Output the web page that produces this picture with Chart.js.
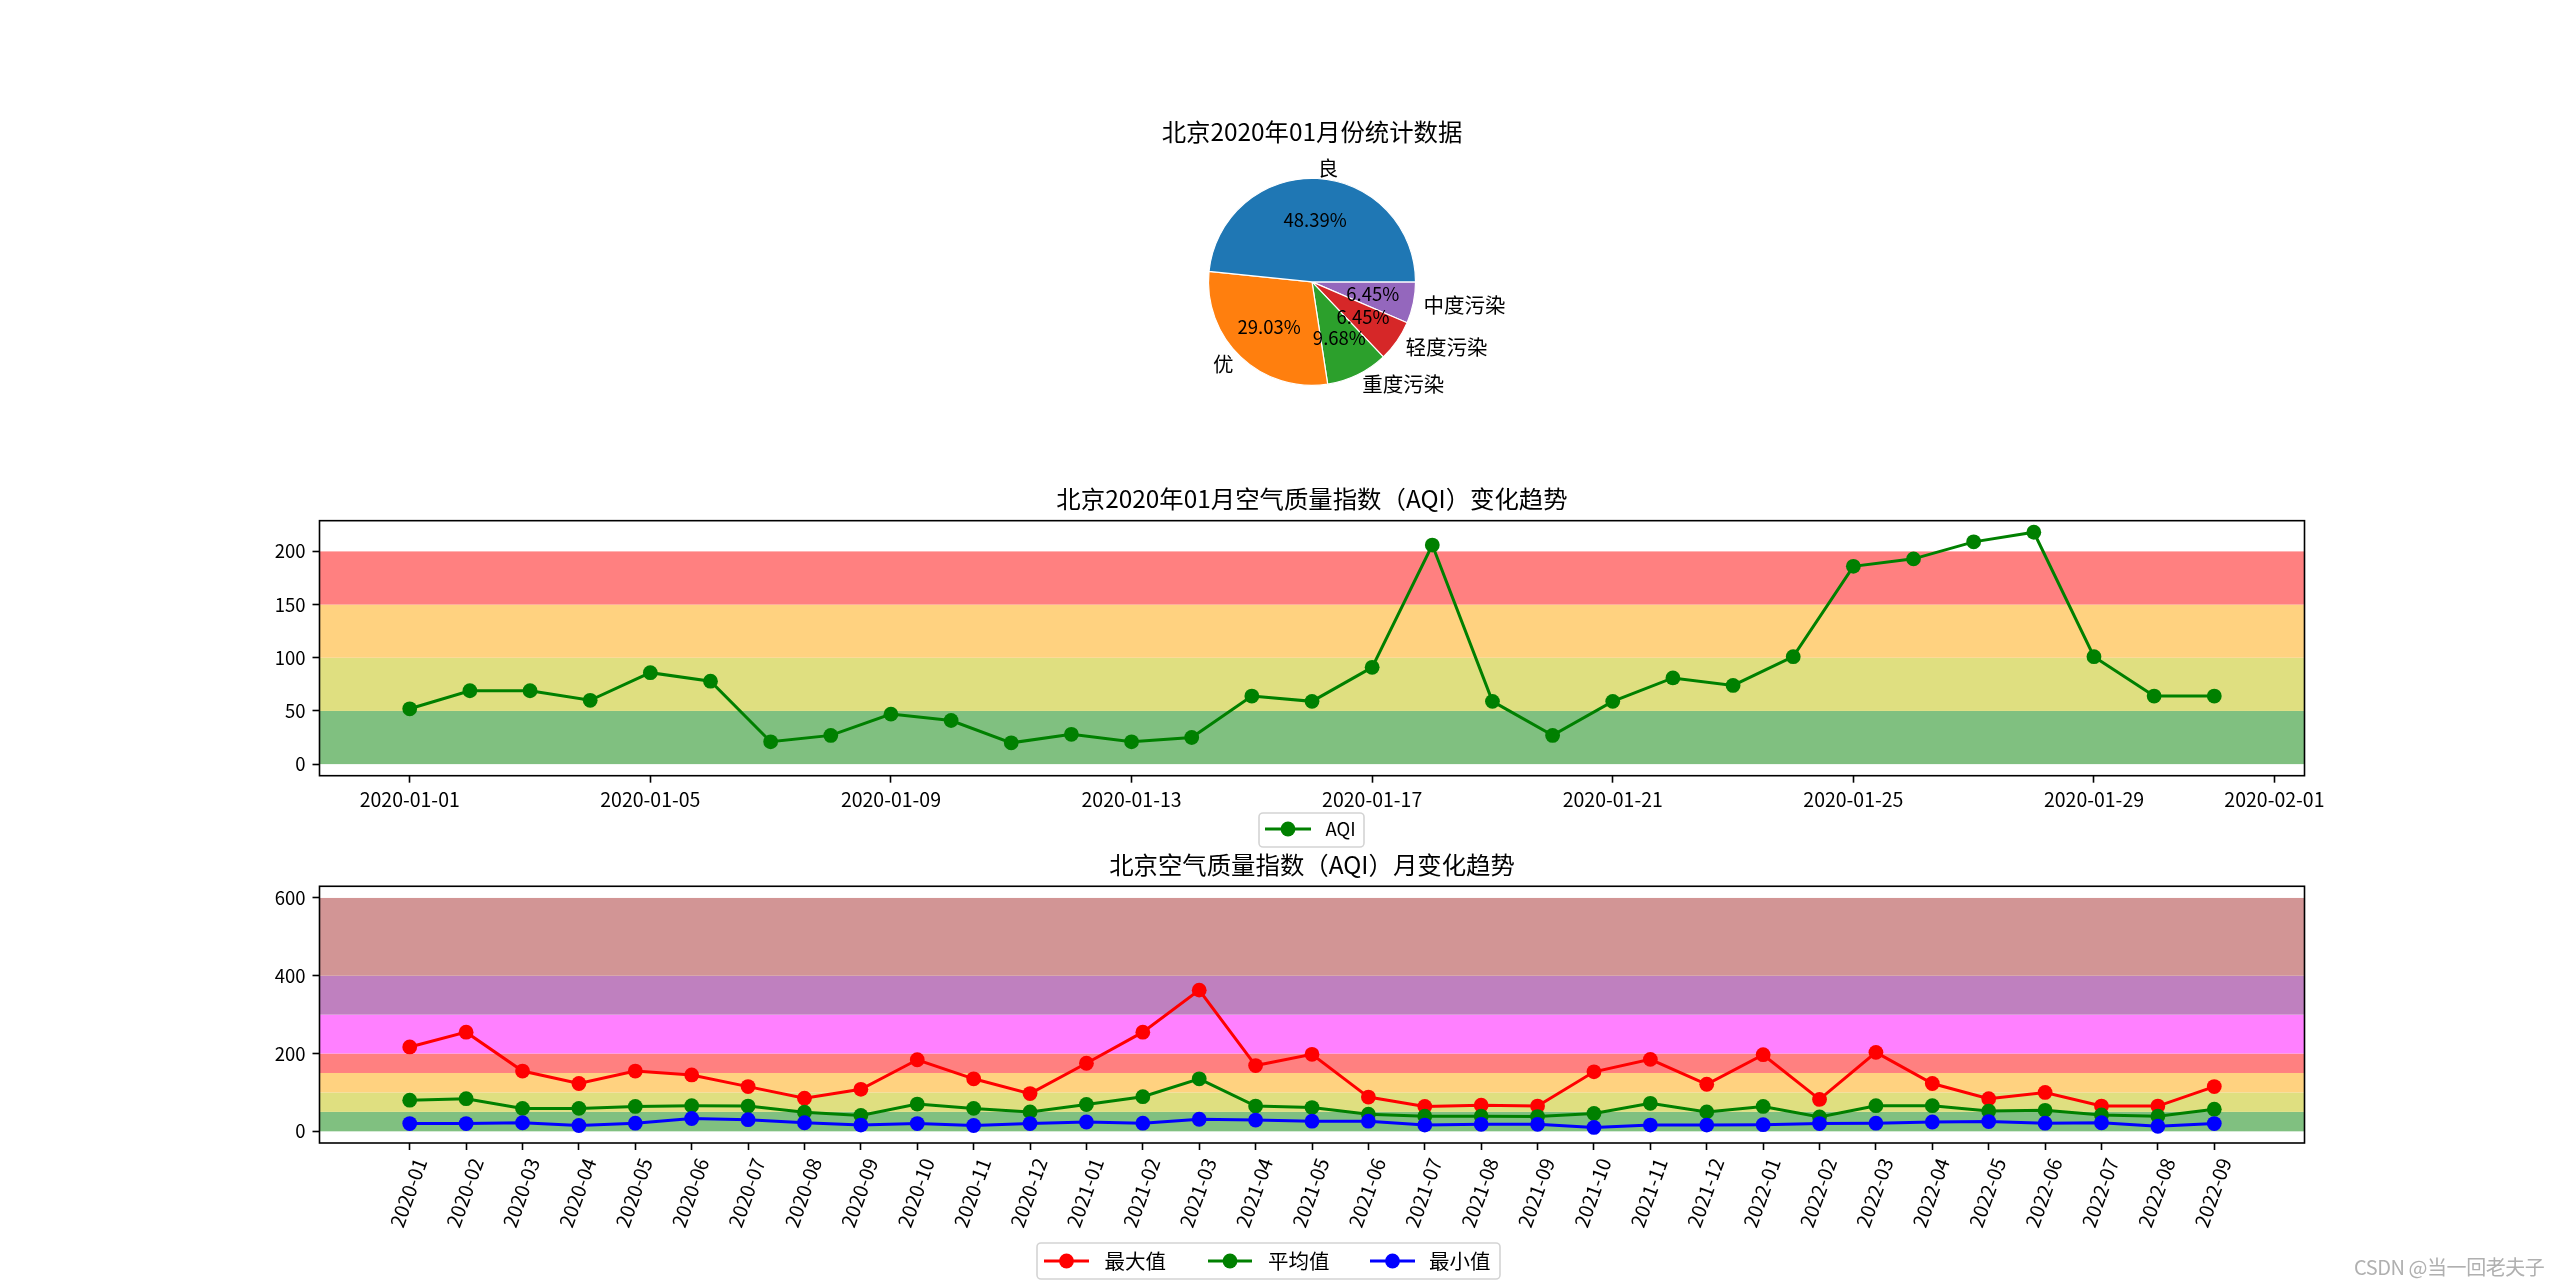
<!DOCTYPE html>
<html lang="zh">
<head>
<meta charset="utf-8">
<title>北京空气质量</title>
<script src="https://cdn.jsdelivr.net/npm/chart.js@4"></script>
<style>
html,body{margin:0;padding:0;background:#fff;width:2560px;height:1284px;overflow:hidden}
canvas{position:absolute;display:block}
#wm{position:absolute;left:2354px;top:1252px;font:20px "Noto Sans CJK SC";color:#b0b0b0;white-space:nowrap;letter-spacing:-0.45px}
</style>
</head>
<body>
<canvas id="pie" width="2496" height="320" style="left:64px;top:100px;width:2496px;height:320px"></canvas>
<canvas id="daily" width="2496" height="380" style="left:64px;top:470px;width:2496px;height:380px"></canvas>
<canvas id="monthly" width="2496" height="434" style="left:64px;top:850px;width:2496px;height:434px"></canvas>
<div id="wm">CSDN @当一回老夫子</div>
<script>
// ---------- data ----------
const pieTitle = '北京2020年01月份统计数据';
const pieLabels = ['良', '优', '重度污染', '轻度污染', '中度污染'];
const pieCounts = [15, 9, 3, 2, 2];
const pieColors = ['#1f77b4', '#ff7f0e', '#2ca02c', '#d62728', '#9467bd'];

const dailyTitle = '北京2020年01月空气质量指数（AQI）变化趋势';
const dailyName = 'AQI';
const dailyAQI = [52, 69, 69, 60, 86, 78, 21, 27, 47, 41, 20, 28, 21, 25, 64, 59, 91, 206, 59, 27, 59, 81, 74, 101, 186, 193, 209, 218, 101, 64, 64];
const dailyTickIndex = [0, 4, 8, 12, 16, 20, 24, 28, 31];
const dailyTickLabels = ['2020-01-01', '2020-01-05', '2020-01-09', '2020-01-13', '2020-01-17', '2020-01-21', '2020-01-25', '2020-01-29', '2020-02-01'];
const dailyYTicks = [0, 50, 100, 150, 200];
const dailyBands = [0, 50, 100, 150, 200];

const monthlyTitle = '北京空气质量指数（AQI）月变化趋势';
const months = ['2020-01','2020-02','2020-03','2020-04','2020-05','2020-06','2020-07','2020-08','2020-09','2020-10','2020-11','2020-12','2021-01','2021-02','2021-03','2021-04','2021-05','2021-06','2021-07','2021-08','2021-09','2021-10','2021-11','2021-12','2022-01','2022-02','2022-03','2022-04','2022-05','2022-06','2022-07','2022-08','2022-09'];
const maxName = '最大值', avgName = '平均值', minName = '最小值';
const maxAQI = [217, 255, 155, 123, 155, 145, 115, 85, 108, 184, 135, 97, 175, 255, 363, 169, 198, 88, 64, 67, 65, 153, 185, 121, 197, 82, 203, 123, 84, 100, 65, 65, 115];
const avgAQI = [80, 84, 59, 59, 64, 66, 65, 49, 41, 70, 59, 50, 69, 89, 135, 65, 61, 44, 39, 39, 38, 46, 72, 50, 64, 37, 66, 66, 52, 54, 42, 39, 57];
const minAQI = [20, 20, 22, 15, 21, 33, 30, 22, 16, 20, 15, 20, 24, 21, 31, 29, 26, 26, 16, 18, 18, 10, 16, 16, 17, 20, 21, 24, 25, 21, 22, 13, 20];
const monthlyYTicks = [0, 200, 400, 600];
const monthlyBands = [0, 50, 100, 150, 200, 300, 400, 600];

const bandColors = ['#80c080', '#dfdf80', '#ffd280', '#ff8080', '#ff80ff', '#bf80bf', '#d29595'];

// ---------- style ----------
const CJK = '"Noto Sans CJK SC"';
const TICK_FONT = {family: CJK, size: 18.5, weight: '400'};
const DATE_FONT = {family: CJK, size: 19.5, weight: '400'};
const TITLE_FONT = {family: CJK, size: 24.4, weight: '400'};
const LABEL_PX = 20.5;
const AXIS_SIDE = 255.5;
const LW = 3, R = 7.4, SPINE = 1.6;

Chart.defaults.color = '#000';
Chart.defaults.animation = false;
Chart.defaults.responsive = false;
Chart.defaults.devicePixelRatio = 1;
Chart.defaults.plugins.legend.display = false;
Chart.defaults.plugins.tooltip.enabled = false;

// ---------- plugins ----------
const bandsPlugin = edges => ({
  id: 'bands',
  beforeDatasetsDraw(c) {
    const {ctx, chartArea: a, scales: {y}} = c;
    ctx.save();
    for (let i = 0; i + 1 < edges.length; i++) {
      const t = y.getPixelForValue(edges[i + 1]), b = y.getPixelForValue(edges[i]);
      ctx.fillStyle = bandColors[i];
      ctx.fillRect(a.left, t, a.right - a.left, b - t);
    }
    ctx.restore();
  }
});
const framePlugin = {
  id: 'frame',
  afterDatasetsDraw(c) {
    const {ctx, chartArea: a} = c;
    ctx.save();
    ctx.strokeStyle = '#000';
    ctx.lineWidth = SPINE;
    ctx.strokeRect(a.left, a.top, a.right - a.left, a.bottom - a.top);
    ctx.restore();
  }
};
const legendPlugin = (box, midY, items, originY) => ({
  id: 'boxLegend',
  afterDraw(c) {
    const ctx = c.ctx, ox = 64, oy = originY;
    ctx.save();
    ctx.strokeStyle = '#d4d4d4';
    ctx.lineWidth = SPINE;
    ctx.fillStyle = 'rgba(255,255,255,0.8)';
    ctx.beginPath();
    ctx.roundRect(box[0] - ox, box[1] - oy, box[2] - box[0], box[3] - box[1], 4);
    ctx.fill();
    ctx.stroke();
    for (const it of items) {
      ctx.strokeStyle = it.color;
      ctx.fillStyle = it.color;
      ctx.lineWidth = LW;
      ctx.beginPath();
      ctx.moveTo(it.lineFrom - ox, midY - oy);
      ctx.lineTo(it.lineTo - ox, midY - oy);
      ctx.stroke();
      ctx.beginPath();
      ctx.arc((it.lineFrom + it.lineTo) / 2 - ox, midY - oy, R, 0, Math.PI * 2);
      ctx.fill();
      ctx.fillStyle = '#000';
      ctx.font = `${it.name === dailyName ? TICK_FONT.size : LABEL_PX}px ${CJK}`;
      ctx.textAlign = 'left';
      ctx.textBaseline = 'middle';
      ctx.fillText(it.name, it.textX - ox, midY - oy);
    }
    ctx.restore();
  }
});
const pieLabelPlugin = {
  id: 'pieLabels',
  afterDatasetsDraw(c) {
    const ctx = c.ctx, arcs = c.getDatasetMeta(0).data;
    const total = pieCounts.reduce((s, v) => s + v, 0);
    ctx.save();
    ctx.fillStyle = '#000';
    ctx.textBaseline = 'middle';
    const n = pieCounts.length;
    for (let i = 0; i < n; i++) {
      const arc = arcs[n - 1 - i];
      const mid = (arc.startAngle + arc.endAngle) / 2, r = arc.outerRadius;
      const lx = arc.x + 1.1 * r * Math.cos(mid), ly = arc.y + 1.1 * r * Math.sin(mid);
      ctx.font = `${LABEL_PX}px ${CJK}`;
      ctx.textAlign = lx > arc.x ? 'left' : 'right';
      ctx.fillText(pieLabels[i], lx, ly);
    }
    for (let i = 0; i < n; i++) {
      const arc = arcs[n - 1 - i];
      const mid = (arc.startAngle + arc.endAngle) / 2, r = arc.outerRadius;
      ctx.font = `${TICK_FONT.size}px ${CJK}`;
      ctx.textAlign = 'center';
      ctx.fillText((pieCounts[i] / total * 100).toFixed(2) + '%', arc.x + 0.6 * r * Math.cos(mid), arc.y + 0.6 * r * Math.sin(mid));
    }
    ctx.restore();
  }
};

const series = (name, values, color, order) => ({
  label: name,
  data: values.map((v, i) => ({x: i, y: v})),
  borderColor: color,
  backgroundColor: color,
  borderWidth: LW,
  pointRadius: R,
  pointBorderWidth: 0,
  pointBackgroundColor: color,
  tension: 0,
  fill: false,
  clip: false,
  order
});
const axisGrid = {display: true, drawOnChartArea: false, drawTicks: true, tickLength: 7, tickWidth: SPINE, tickColor: '#000'};
const axes = (xMin, xMax, xTicks, xLabel, yMin, yMax, yTicks, xHeight, extraX) => ({
  x: {
    type: 'linear', min: xMin, max: xMax,
    afterBuildTicks(s) { s.ticks = xTicks.map(v => ({value: v})); },
    afterFit(s) { s.height = xHeight; },
    grid: axisGrid,
    border: {display: false},
    ticks: Object.assign({autoSkip: false, font: DATE_FONT, color: '#000', padding: 5, callback: xLabel}, extraX)
  },
  y: {
    type: 'linear', min: yMin, max: yMax,
    afterBuildTicks(s) { s.ticks = yTicks.map(v => ({value: v})); },
    afterFit(s) { s.width = AXIS_SIDE; },
    grid: axisGrid,
    border: {display: false},
    ticks: {font: TICK_FONT, color: '#000', padding: 7}
  }
});

// ---------- pie ----------
new Chart(document.getElementById('pie'), {
  type: 'pie',
  data: {
    labels: [...pieLabels].reverse(),
    datasets: [{
      data: [...pieCounts].reverse(),
      backgroundColor: [...pieColors].reverse(),
      borderColor: '#fff',
      borderWidth: 1.2
    }]
  },
  options: {
    rotation: 90,
    layout: {padding: {bottom: 34}},
    plugins: {title: {display: true, text: pieTitle, font: TITLE_FONT, color: '#000', padding: {top: 17, bottom: 31.5}}}
  },
  plugins: [pieLabelPlugin]
});

// ---------- daily ----------
new Chart(document.getElementById('daily'), {
  type: 'line',
  data: {datasets: [series(dailyName, dailyAQI, '#008000', 1)]},
  options: {
    layout: {padding: {right: AXIS_SIDE}},
    scales: axes(-1.5, 31.5, dailyTickIndex, v => dailyTickLabels[dailyTickIndex.indexOf(v)], -10.9, 228.9, dailyYTicks, 74.3, {maxRotation: 0, minRotation: 0}),
    plugins: {title: {display: true, fullSize: false, text: dailyTitle, font: TITLE_FONT, color: '#000', padding: {top: 14, bottom: 7.4}}}
  },
  plugins: [bandsPlugin(dailyBands), framePlugin,
    legendPlugin([1259, 813, 1364, 847], 829, [{name: dailyName, color: '#008000', lineFrom: 1265, lineTo: 1311, textX: 1325.5}], 470)]
});

// ---------- monthly ----------
new Chart(document.getElementById('monthly'), {
  type: 'line',
  data: {datasets: [series(maxName, maxAQI, '#ff0000', 3), series(avgName, avgAQI, '#008000', 2), series(minName, minAQI, '#0000ff', 1)]},
  options: {
    layout: {padding: {right: AXIS_SIDE}},
    scales: axes(-1.6, 33.6, months.map((m, i) => i), v => months[v], -30, 630, monthlyYTicks, 141, {maxRotation: 70, minRotation: 70, labelOffset: 11}),
    plugins: {title: {display: true, fullSize: false, text: monthlyTitle, font: TITLE_FONT, color: '#000', padding: {top: 0, bottom: 7}}}
  },
  plugins: [bandsPlugin(monthlyBands), framePlugin,
    legendPlugin([1037, 1243, 1500, 1279], 1261, [
      {name: maxName, color: '#ff0000', lineFrom: 1044, lineTo: 1089, textX: 1104.6},
      {name: avgName, color: '#008000', lineFrom: 1208, lineTo: 1252, textX: 1268},
      {name: minName, color: '#0000ff', lineFrom: 1370, lineTo: 1415, textX: 1429}
    ], 850)]
});
</script>
</body>
</html>
